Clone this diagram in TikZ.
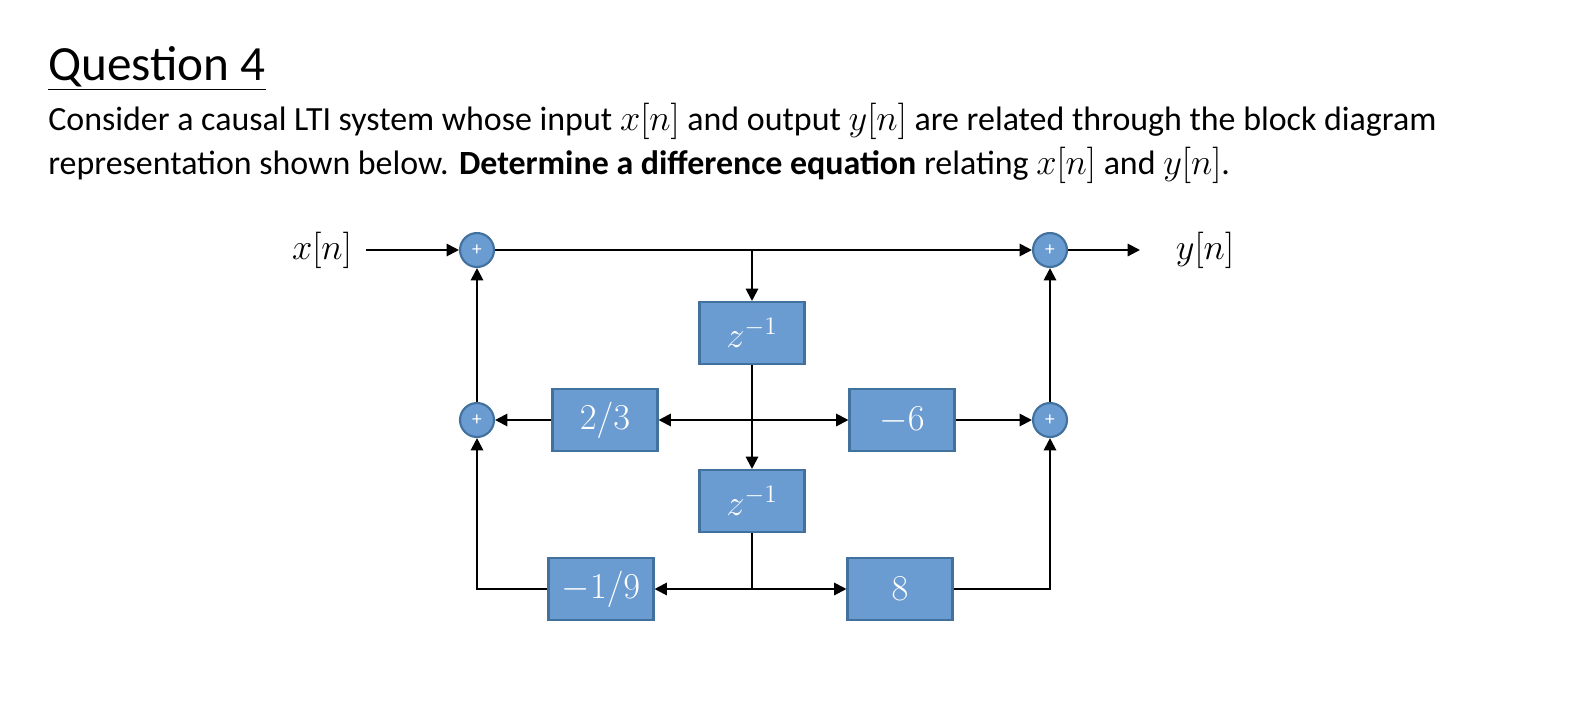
\documentclass[tikz,border=0pt]{standalone}
\usepackage{fontspec}
\setmainfont{Carlito}
\usetikzlibrary{arrows.meta}
\definecolor{bfill}{HTML}{6A9BD1}
\definecolor{bdraw}{HTML}{41719C}
\begin{document}
\begin{tikzpicture}[x=0.02cm,y=-0.02cm,
 blk/.style={draw=bdraw,fill=bfill,line width=1.2pt,minimum width=2.1cm,minimum height=1.24cm,text=white,font=\fontsize{20}{24}\selectfont,inner sep=0pt},
 sum/.style={circle,draw=bdraw,fill=bfill,line width=1.2pt,minimum size=0.68cm,inner sep=0pt,text=white,font=\fontsize{11}{12}\selectfont},
 ar/.style={-{Triangle[length=7pt,width=7pt]},line width=1.2pt},
 ln/.style={line width=1.2pt}]
\useasboundingbox (0,0) rectangle (1570,704);
\node[anchor=base west,font=\fontsize{28}{32}\selectfont,inner sep=0pt] (q) at (48,80) {\underline{Question 4}};
\node[anchor=base west,font=\fontsize{19.3}{22}\selectfont,inner sep=0pt] (l1) at (48,130) {Consider a causal LTI system whose input $x[n]$ and output $y[n]$ are related through the block diagram};
\node[anchor=base west,font=\fontsize{19.3}{22}\selectfont,inner sep=0pt] (l2) at (48,174) {representation shown below. \textbf{Determine a difference equation} relating $x[n]$ and $y[n]$.};
\node[font=\fontsize{22}{24}\selectfont] (x) at (322,250) {$x[n]$};
\node[font=\fontsize{22}{24}\selectfont] (y) at (1205,250) {$y[n]$};
\node[sum] (s1) at (477,250) {+};
\node[sum] (s2) at (1050,250) {+};
\node[sum] (s3) at (477,420) {+};
\node[sum] (s4) at (1050,420) {+};
\node[blk] (z1) at (752,333) {$z^{-1}$};
\node[blk] (z2) at (752,501) {$z^{-1}$};
\node[blk] (a1) at (605,420) {$2/3$};
\node[blk] (b1) at (902,420) {$-6$};
\node[blk] (a2) at (601,589) {$-1/9$};
\node[blk] (b2) at (900,589) {$8$};
\coordinate (j1) at (752,250);
\coordinate (j2) at (752,420);
\coordinate (j3) at (752,589);
\draw[ar] (x.east) ++(8,0) -- (s1.west);
\draw[ar] (s1.east) -- (s2.west);
\draw[ar] (s2.east) -- (1140,250);
\draw[ar] (j1) -- (z1.north);
\draw[ar] (z1.south) -- (z2.north);
\draw[ar] (j2) -- (a1.east);
\draw[ar] (j2) -- (b1.west);
\draw[ar] (a1.west) -- (s3.east);
\draw[ar] (b1.east) -- (s4.west);
\draw[ar] (s3.north) -- (s1.south);
\draw[ar] (s4.north) -- (s2.south);
\draw[ln] (z2.south) -- (j3);
\draw[ar] (j3) -- (a2.east);
\draw[ar] (j3) -- (b2.west);
\draw[ar] (a2.west) -| (s3.south);
\draw[ar] (b2.east) -| (s4.south);
\end{tikzpicture}
\end{document}
